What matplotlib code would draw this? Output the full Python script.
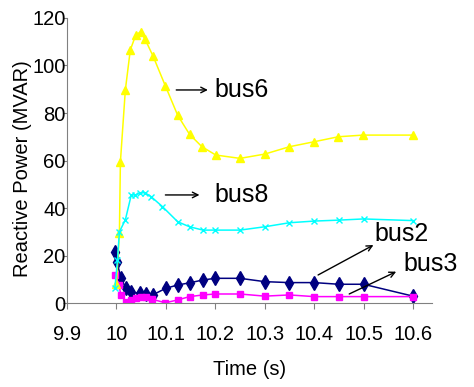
import matplotlib
matplotlib.use("Agg")
import matplotlib.pyplot as plt

plt.rcParams['font.family'] = ['Liberation Sans', 'DejaVu Sans']

# Data
bus2_t = [9.998, 10.001, 10.009, 10.019, 10.03, 10.047, 10.06, 10.073, 10.1, 10.124,
          10.148, 10.175, 10.2, 10.25, 10.30, 10.35, 10.40, 10.45, 10.50, 10.60]
bus2 = [21.6, 17.4, 10.5, 6.2, 4.5, 4.2, 3.8, 3.4, 6.2, 7.6,
        8.5, 9.7, 10.4, 10.4, 9.0, 8.6, 8.6, 7.9, 7.9, 2.9]

bus3_t = [9.998, 10.005, 10.009, 10.02, 10.03, 10.04, 10.05, 10.06, 10.072, 10.099,
          10.124, 10.148, 10.175, 10.2, 10.25, 10.30, 10.35, 10.40, 10.45, 10.50, 10.60]
bus3 = [11.8, 7.6, 3.4, 0.6, 1.3, 2.0, 2.4, 2.4, 1.6, 0.1,
        1.3, 2.7, 3.4, 3.8, 3.8, 2.9, 3.4, 2.7, 2.7, 2.7, 2.7]

bus6_t = [10.0, 10.006, 10.008, 10.018, 10.028, 10.039, 10.049, 10.058, 10.074, 10.099,
          10.124, 10.148, 10.173, 10.201, 10.25, 10.30, 10.35, 10.40, 10.449, 10.499, 10.60]
bus6 = [8, 29.5, 59.4, 89.7, 106.5, 112.8, 114.2, 111, 104, 91.4,
        79, 71, 65.8, 62.3, 60.9, 62.7, 65.8, 67.9, 70, 70.7, 70.7]

bus8_t = [9.997, 10.002, 10.006, 10.018, 10.03, 10.038, 10.047, 10.057, 10.07, 10.093,
          10.124, 10.148, 10.175, 10.199, 10.25, 10.30, 10.35, 10.40, 10.45, 10.50, 10.60]
bus8 = [6.5, 18, 30, 35, 45.5, 45.5, 46.2, 46.5, 44.8, 40.6,
        34.2, 32.1, 30.7, 30.7, 30.7, 32.1, 33.8, 34.5, 34.9, 35.4, 34.7]

x_ticks = [9.9, 10.0, 10.1, 10.2, 10.3, 10.4, 10.5, 10.6]
x_tick_labels = ["9.9", "10", "10.1", "10.2", "10.3", "10.4", "10.5", "10.6"]
y_ticks = [0, 20, 40, 60, 80, 100, 120]

fig = plt.figure(figsize=(4.74, 3.87), dpi=100)
ax = fig.add_axes([0.1414, 0.217, 0.770, 0.7365])

ax.plot(bus2_t, bus2, color='#000080', marker='d', markersize=7, lw=1.1)
ax.plot(bus3_t, bus3, color='#FF00FF', marker='s', markersize=4.8, lw=1.1)
ax.plot(bus6_t, bus6, color='#FFFF00', marker='^', markersize=5.2, lw=1.1)
ax.plot(bus8_t, bus8, color='#00FFFF', marker='x', markersize=5, mew=1.0, lw=1.1)

ax.set_xlim(9.9, 10.6385)
ax.set_ylim(0, 120)
ax.set_xticks(x_ticks)
ax.set_xticklabels(x_tick_labels)
ax.set_yticks(y_ticks)

for s in ['top', 'right']:
    ax.spines[s].set_visible(False)
for s in ['left', 'bottom']:
    ax.spines[s].set_color('#808080')
ax.tick_params(axis='both', colors='#808080', labelcolor='black', labelsize=14.5,
               length=4, direction='out')
ax.tick_params(axis='x', pad=12)
ax.tick_params(axis='y', length=3, pad=-2)

ax.set_xlabel('Time (s)', fontsize=14.5, labelpad=11)
ax.set_ylabel('Reactive Power (MVAR)', fontsize=14.5, labelpad=3)
ax.yaxis.set_label_coords(-0.095, 0.47)

arrow = dict(arrowstyle='->', color='black', lw=1, shrinkA=0, shrinkB=0)
ax.annotate('', xy=(10.185, 89.7), xytext=(10.121, 89.7), arrowprops=arrow)
ax.text(10.199, 89.7, 'bus6', fontsize=18, va='center', ha='left')
ax.annotate('', xy=(10.168, 45.5), xytext=(10.099, 45.5), arrowprops=arrow)
ax.text(10.199, 45.5, 'bus8', fontsize=18, va='center', ha='left')
ax.annotate('', xy=(10.52, 24.4), xytext=(10.408, 11.8), arrowprops=arrow,
            annotation_clip=False)
ax.text(10.523, 29, 'bus2', fontsize=18, va='center', ha='left', clip_on=False)
ax.annotate('', xy=(10.566, 13.2), xytext=(10.471, 3.8), arrowprops=arrow,
            annotation_clip=False)
ax.text(10.58, 16.4, 'bus3', fontsize=18, va='center', ha='left', clip_on=False)

fig.savefig('out.png', dpi=100)
